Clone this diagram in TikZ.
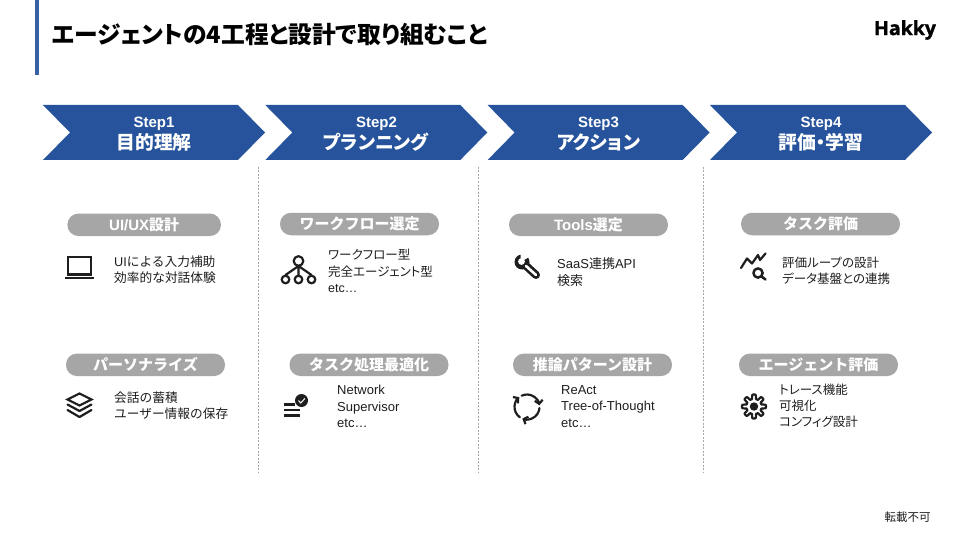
\documentclass[tikz,border=0pt]{standalone}
\usepackage{fontspec}
\usetikzlibrary{arrows.meta}
\setmainfont{Liberation Sans}
\newfontfamily\jp{Noto Sans CJK JP}
\newfontfamily\jpp[RawFeature=+palt]{Noto Sans CJK JP}
\newfontfamily\hakkyfont[BoldFeatures={FakeBold=1.2}]{Open Sans}
\newcommand{\J}[1]{{\jp #1}}
\newcommand{\JP}[1]{{\jpp #1}}
\definecolor{stepblue}{HTML}{26539B}
\definecolor{pillgrey}{HTML}{A6A6A6}
\definecolor{inkdark}{HTML}{1E1E1E}
\tikzset{
  x=1pt,y=-1pt,
  chev/.style={fill=stepblue,draw=none},
  steplabel/.style={text=white,font=\fontsize{15}{15}\selectfont\bfseries,inner sep=0pt,anchor=center},
  stepname/.style={text=white,font=\fontsize{18.8}{19}\selectfont\jpp\bfseries,inner sep=0pt,anchor=center},
  pill/.style={fill=pillgrey,draw=none,rounded corners=11pt,minimum width=159pt,minimum height=22.5pt,inner sep=0pt,text=white,font=\fontsize{15}{15}\selectfont\bfseries,anchor=center},
  body/.style={align=left,anchor=west,inner sep=0pt,text=inkdark,font=\fontsize{12.7}{16.2}\selectfont},
  bodytight/.style={body,font=\fontsize{12.5}{16.2}\selectfont},
  bodylatin/.style={body,font=\fontsize{13}{16.2}\selectfont},
  divider/.style={draw=black!35,line width=0.5pt,dash pattern=on 2pt off 1.5pt},
  icon/.style={draw=inkdark,line width=2.2pt,line cap=round,line join=round},
}
\begin{document}
\begin{tikzpicture}
\useasboundingbox (0,0) rectangle (960,540);
\fill[white] (0,0) rectangle (960,540);
% header
\fill[stepblue!92!white] (34.5,0) rectangle (38.5,75);
\node[anchor=west,inner sep=0pt,text=black,font=\fontsize{23.75}{24}\selectfont\jpp\bfseries] (title) at (52,35) {エージェントの4工程と設計で取り組むこと};
\node[anchor=center,inner sep=0pt,text=black,font=\fontsize{19.5}{22}\selectfont\hakkyfont\bfseries] (logo) at (905,30) {Hakky};
\node[anchor=center,inner sep=0pt,text=inkdark,font=\fontsize{11.5}{12}\selectfont\jp] (note) at (907.5,517) {転載不可};
% chevrons
\foreach \dx in {0,222.3,444.6,667}{
  \fill[chev] ({43+\dx},105) -- ({238+\dx},105) -- ({265+\dx},132.5) -- ({238+\dx},160) -- ({43+\dx},160) -- ({70+\dx},132.5) -- cycle;
}
\node[steplabel] (s1) at (154,124) {Step1};
\node[stepname] (n1) at (154,142) {目的理解};
\node[steplabel] (s2) at (376.5,124) {Step2};
\node[stepname] (n2) at (376,142) {プランニング};
\node[steplabel] (s3) at (598.5,124) {Step3};
\node[stepname] (n3) at (598.5,142) {アクション};
\node[steplabel] (s4) at (821,124) {Step4};
\node[stepname] (n4) at (821,142) {評価・学習};
% dividers
\foreach \x in {258,478.5,703}{ \draw[divider] (\x,167) -- (\x,473); }
% pills
\node[pill,minimum width=153.5pt] (p11) at (144.2,224.8) {UI/UX\J{設計}};
\node[pill] (p12) at (145.5,364.8) {\J{パーソナライズ}};
\node[pill] (p21) at (359.5,224) {\J{ワークフロー選定}};
\node[pill] (p22) at (369,364.8) {\J{タスク処理最適化}};
\node[pill] (p31) at (588.5,224.8) {Tools\J{選定}};
\node[pill] (p32) at (592.5,364.8) {\J{推論パターン設計}};
\node[pill] (p41) at (820.5,224) {\J{タスク評価}};
\node[pill] (p42) at (818.5,364.8) {\J{エージェント評価}};
% texts
\node[body] (t11) at (114,270) {UI\J{による入力補助}\\\J{効率的な対話体験}};
\node[body] (t12) at (114,406) {\J{会話の蓄積}\\\J{ユーザー情報の保存}};
\node[bodytight] (t21) at (328,271) {\JP{ワークフロー型}\\\JP{完全エージェント型}\\etc…};
\node[bodylatin] (t22) at (337,406.5) {Network\\Supervisor\\etc…};
\node[bodylatin] (t31) at (557,272) {SaaS\J{連携}API\\\J{検索}};
\node[bodylatin] (t32) at (561,406.5) {ReAct\\Tree-of-Thought\\etc…};
\node[bodytight] (t41) at (782,271) {\JP{評価ループの設計}\\\JP{データ基盤との連携}};
\node[bodytight] (t42) at (779,406) {\JP{トレース機能}\\\JP{可視化}\\\JP{コンフィグ設計}};
% laptop icon
\draw[icon,line cap=butt,line join=miter] (68,274.5) -- (68,257) -- (91,257) -- (91,274.5) -- cycle;
\draw[icon,line cap=butt] (65,278.2) -- (93.5,278.2);
% layers icon
\draw[icon,line join=miter] (79.5,393.5) -- (91.5,399.5) -- (79.5,405.5) -- (67.5,399.5) -- cycle;
\draw[icon] (67.5,404.5) -- (79.5,411) -- (91.5,404.5);
\draw[icon] (67.5,410) -- (79.5,417) -- (91.5,410);
% tree icon
\draw[icon] (298.5,266) -- (285.5,275) (298.5,266) -- (298.5,275) (298.5,266) -- (311.5,275);
\draw[icon,fill=white] (298.5,261) circle[radius=4.8];
\draw[icon,fill=white] (285.5,279.5) circle[radius=3.8];
\draw[icon,fill=white] (298.5,279.5) circle[radius=3.8];
\draw[icon,fill=white] (311.5,279.5) circle[radius=3.8];
% list-check icon
\draw[icon,line cap=butt] (283.5,404.5) -- (295,404.5) (283.5,410) -- (300,410) (283.5,415.5) -- (300,415.5);
\fill[inkdark] (301.5,400.5) circle[radius=6.5];
\draw[white,line width=1pt] (298.5,400.5) -- (300.8,403) -- (304.8,398.5);
% wrench icon
\draw[inkdark,line width=8pt,line cap=round] (523,263) -- (536,275);
\fill[inkdark] (522,262) circle[radius=7.5];
\draw[white,line width=2.6pt,line cap=round] (526,266) -- (536,275);
\fill[white] (521.5,261.5) circle[radius=3.4];
\fill[white] (520.5,262) -- (520.5,252) -- (530,256.5) -- cycle;
% cycle icon
\begin{scope}[shift={(527,407)},y=1pt]
  \draw[icon,-{Straight Barb[length=3.5pt,width=8pt]}] (115:12.5) arc[start angle=115,end angle=8,radius=12.5];
  \draw[icon,-{Straight Barb[length=3.5pt,width=8pt]}] (-5:12.5) arc[start angle=-5,end angle=-112,radius=12.5];
  \draw[icon,-{Straight Barb[length=3.5pt,width=8pt]}] (-125:12.5) arc[start angle=-125,end angle=-232,radius=12.5];
\end{scope}
% chart search icon
\draw[icon] (741,268) -- (747,258.5) -- (752,263.5) -- (758,255) -- (760,260) -- (765.5,253.5);
\draw[icon,line width=2.5pt] (758,273) circle[radius=4.6];
\draw[icon,line width=2.5pt] (761.5,276.5) -- (765.5,279.5);
% gear icon
\begin{scope}[shift={(754,406.5)},y=1pt]
  \draw[icon,fill=white] plot[samples=161,domain=0:360] (\x:{9.8+2.2*tanh(3*cos(8*\x))}) -- cycle;
  \fill[inkdark] (0,0) circle[radius=4.2];
\end{scope}
\end{tikzpicture}
\end{document}
